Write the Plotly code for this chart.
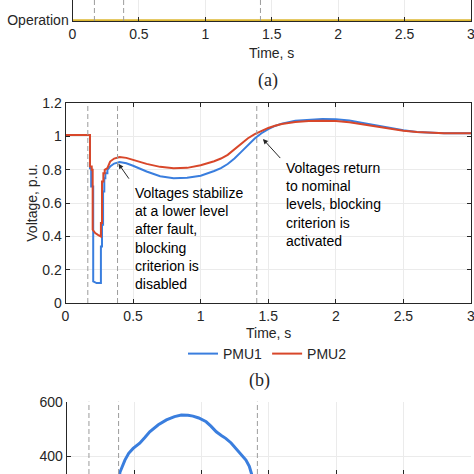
import plotly.graph_objects as go

W = H = 474

# ---------------- data ----------------
x_ticks = [0, 0.5, 1, 1.5, 2, 2.5, 3]
event_times = [0.165, 0.385, 1.415]

# (a) blocking status (only "Operation" level visible)
status_t = [0, 3]
status_v = [0, 0]

# (b) voltages
pmu1_t = [0, 0.181, 0.181, 0.19, 0.19, 0.205, 0.205, 0.23, 0.262, 0.262, 0.27, 0.27,
          0.278, 0.278, 0.287, 0.287, 0.295, 0.295, 0.31, 0.31, 0.33, 0.36, 0.40, 0.45,
          0.5, 0.6, 0.7, 0.8, 0.9, 1.0, 1.1, 1.15, 1.2, 1.25, 1.3, 1.35, 1.4, 1.45, 1.5,
          1.55, 1.6, 1.7, 1.8, 1.9, 2.0, 2.1, 2.2, 2.3, 2.4, 2.5, 2.6, 2.7, 2.8, 2.9, 3.0]
pmu1_v = [1.01, 1.01, 0.81, 0.81, 0.70, 0.70, 0.13, 0.12, 0.12, 0.34, 0.34, 0.47,
          0.47, 0.67, 0.67, 0.75, 0.75, 0.78, 0.78, 0.80, 0.82, 0.838, 0.847, 0.84,
          0.825, 0.79, 0.762, 0.75, 0.752, 0.765, 0.793, 0.81, 0.835, 0.868, 0.908,
          0.95, 0.988, 1.02, 1.045, 1.064, 1.078, 1.095, 1.102, 1.106, 1.104, 1.096,
          1.082, 1.066, 1.05, 1.038, 1.028, 1.022, 1.02, 1.02, 1.02]

pmu2_t = [0, 0.181, 0.181, 0.194, 0.194, 0.201, 0.201, 0.22, 0.24, 0.262, 0.262, 0.27,
          0.27, 0.28, 0.28, 0.29, 0.29, 0.31, 0.33, 0.36, 0.40, 0.45, 0.5, 0.6, 0.7,
          0.8, 0.9, 1.0, 1.1, 1.15, 1.2, 1.25, 1.3, 1.35, 1.4, 1.45, 1.5, 1.55, 1.6,
          1.7, 1.8, 1.9, 2.0, 2.1, 2.2, 2.3, 2.4, 2.5, 2.6, 2.7, 2.8, 2.9, 3.0]
pmu2_v = [1.01, 1.01, 0.82, 0.82, 0.80, 0.80, 0.44, 0.42, 0.41, 0.40, 0.48, 0.48,
          0.73, 0.73, 0.78, 0.78, 0.80, 0.81, 0.85, 0.868, 0.877, 0.872, 0.86, 0.836,
          0.818, 0.81, 0.812, 0.828, 0.852, 0.868, 0.89, 0.922, 0.958, 0.99, 1.015,
          1.035, 1.052, 1.065, 1.075, 1.088, 1.094, 1.095, 1.093, 1.086, 1.074, 1.06,
          1.046, 1.035, 1.027, 1.022, 1.02, 1.02, 1.02]

# (c) lower panel curve (only the top part visible)
c_t = [0.39, 0.395, 0.432, 0.46, 0.493, 0.542, 0.58, 0.616, 0.68, 0.74, 0.8, 0.85,
       0.9, 0.937, 0.98, 1.035, 1.07, 1.11, 1.15, 1.18, 1.22, 1.257, 1.3, 1.33,
       1.355, 1.37, 1.38]
c_v = [320, 340, 385, 410, 428, 447, 468, 489, 515, 533, 545, 551,
       550, 547, 540, 526, 510, 489, 475, 465, 448, 428, 405, 385,
       362, 342, 320]

# ---------------- styling ----------------
BLUE = '#3a7ede'
RED = '#d8472a'
YEL = '#dcb732'
AX = '#262626'
GRID = '#ebebeb'
FONT = 'Liberation Sans, Arial, sans-serif'
SERIF = 'Liberation Serif, Times New Roman, serif'

def px_x(p):
    return p / W

def px_y(p):
    return 1 - p / H

fig = go.Figure()

fig.add_trace(go.Scatter(x=status_t, y=status_v, mode='lines', xaxis='x', yaxis='y',
                         line=dict(color=YEL, width=2), showlegend=False))
fig.add_trace(go.Scatter(x=pmu1_t, y=pmu1_v, mode='lines', xaxis='x2', yaxis='y2',
                         name='PMU1', line=dict(color=BLUE, width=2)))
fig.add_trace(go.Scatter(x=pmu2_t, y=pmu2_v, mode='lines', xaxis='x2', yaxis='y2',
                         name='PMU2', line=dict(color=RED, width=2)))
fig.add_trace(go.Scatter(x=c_t, y=c_v, mode='lines', xaxis='x3', yaxis='y3',
                         line=dict(color=BLUE, width=3), showlegend=False))

common_x = dict(range=[0, 3], tickvals=x_ticks, ticktext=[f'{v:g}' for v in x_ticks],
                showgrid=True, gridcolor=GRID, zeroline=False, ticks='inside',
                ticklen=4, tickcolor=AX, linecolor=AX, linewidth=1,
                ticklabeloverflow='allow',
                tickfont=dict(family=FONT, size=14, color=AX), automargin=False)
common_y = dict(showgrid=True, gridcolor=GRID, zeroline=False, ticks='inside',
                ticklen=4, tickcolor=AX, linecolor=AX, linewidth=1,
                ticklabeloverflow='allow',
                tickfont=dict(family=FONT, size=14, color=AX), automargin=False)

fig.update_layout(
    width=W, height=H,
    margin=dict(l=0, r=0, t=0, b=0, autoexpand=False),
    paper_bgcolor='white', plot_bgcolor='white',
    font=dict(family=FONT, size=14, color=AX),
    xaxis=dict(common_x, domain=[px_x(72.5), px_x(471)], anchor='y', showline=True,
               mirror=False),
    yaxis=dict(common_y, domain=[px_y(21), 1], anchor='x', range=[-0.04, 1],
               tickvals=[0], ticktext=['Operation'], showline=True, mirror='ticks'),
    xaxis2=dict(common_x, domain=[px_x(65.5), px_x(471)], anchor='y2', showline=True,
                mirror='ticks'),
    yaxis2=dict(common_y, domain=[px_y(303), px_y(103.3)], anchor='x2', range=[0, 1.2],
                tickvals=[0, 0.2, 0.4, 0.6, 0.8, 1, 1.2],
                ticktext=['0', '0.2', '0.4', '0.6', '0.8', '1', '1.2'],
                showline=True, mirror='ticks'),
    xaxis3=dict(common_x, domain=[px_x(66.7), px_x(471)], anchor='y3', showline=False,
                showticklabels=False),
    yaxis3=dict(common_y, domain=[0, px_y(401.7)], anchor='x3', range=[333.7, 600],
                tickvals=[400, 600], showline=True, mirror=False),
    legend=dict(orientation='h', x=px_x(267.5), y=px_y(354), xanchor='center',
                yanchor='middle', font=dict(family=FONT, size=14, color=AX),
                bgcolor='rgba(0,0,0,0)', itemwidth=30, tracegroupgap=0),
)

# dashed event lines
shapes = []
for xa, ya in [('x', 'y'), ('x2', 'y2'), ('x3', 'y3')]:
    for t in event_times:
        shapes.append(dict(type='line', xref=xa, yref=f'{ya} domain', x0=t, x1=t, y0=0, y1=1,
                           line=dict(color='#9c9c9c', width=1, dash='5px,3px'), layer='above'))
fig.update_layout(shapes=shapes)

ann = []
def label(text, x, y, font, angle=0):
    ann.append(dict(text=text, x=px_x(x), y=px_y(y), xref='paper', yref='paper',
                    xanchor='center', yanchor='middle', showarrow=False,
                    textangle=angle, font=font))

f14 = dict(family=FONT, size=14, color=AX)
fser = dict(family=SERIF, size=18, color=AX)
label('Time, s', 271.7, 53, f14)
label('(a)', 268.3, 80.7, fser)
label('Time, s', 268.3, 332.7, f14)
label('(b)', 259.5, 380.7, fser)
label('Voltage, p.u.', 31.7, 203, f14, -90)

# callouts
ann.append(dict(text='Voltages stabilize<br>at a lower level<br>after fault,<br>blocking<br>criterion is<br>disabled',
                x=px_x(133), y=px_y(183), xref='paper', yref='paper', xanchor='left',
                yanchor='top', align='left', showarrow=False,
                font=dict(family=FONT, size=14, color='black')))
ann.append(dict(text='Voltages return<br>to nominal<br>levels, blocking<br>criterion is<br>activated',
                x=px_x(284), y=px_y(157.5), xref='paper', yref='paper', xanchor='left',
                yanchor='top', align='left', showarrow=False,
                font=dict(family=FONT, size=14, color='black')))
ann.append(dict(text='', x=0.392, y=0.837, xref='x2', yref='y2', ax=0.477, ay=0.738,
                axref='x2', ayref='y2', showarrow=True, arrowhead=2, arrowsize=1,
                arrowwidth=1, arrowcolor=AX))
ann.append(dict(text='', x=1.461, y=0.985, xref='x2', yref='y2', ax=1.599, ay=0.862,
                axref='x2', ayref='y2', showarrow=True, arrowhead=2, arrowsize=1,
                arrowwidth=1, arrowcolor=AX))
fig.update_layout(annotations=ann)

fig.write_html('out.html', config={'displayModeBar': False},
               post_script="document.body.style.margin='0';document.body.style.overflow='hidden';")
